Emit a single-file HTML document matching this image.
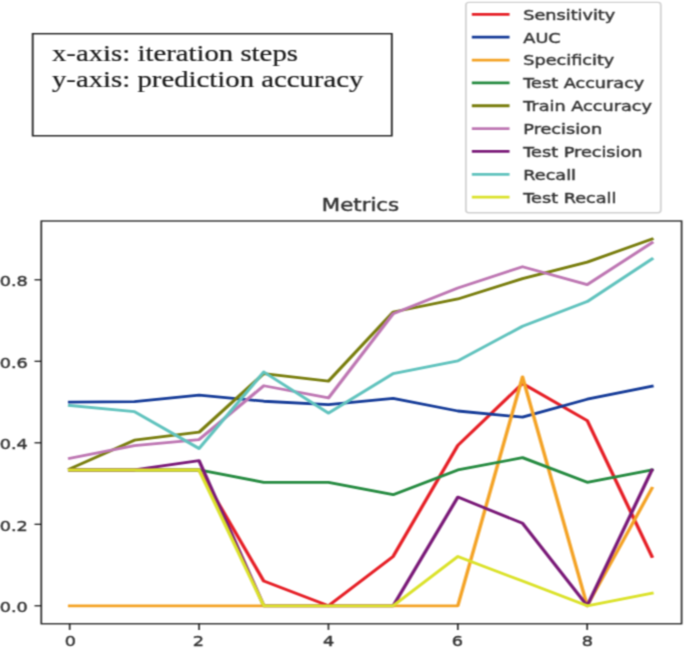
<!DOCTYPE html>
<html><head><meta charset="utf-8"><style>
html,body{margin:0;padding:0;background:#fff;}
body{width:685px;height:648px;overflow:hidden;}
svg{display:block;}
</style></head><body>
<svg width="685" height="648" viewBox="0 0 685 648">
<defs><filter id="bl" x="0" y="0" width="685" height="648" filterUnits="userSpaceOnUse" color-interpolation-filters="sRGB"><feConvolveMatrix order="3" kernelMatrix="0.0500 0.1000 0.0500 0.1500 0.3000 0.1500 0.0500 0.1000 0.0500" divisor="1" edgeMode="duplicate"/></filter></defs>
<rect width="685" height="648" fill="#fff"/>
<g filter="url(#bl)">
<rect width="685" height="648" fill="#fff"/>
<g transform="scale(1.245,1)">
<!-- annotation box -->
<rect x="26.27" y="33.7" width="288.43" height="102.1" fill="#fff" stroke="#222" stroke-width="1.45"/>
<g font-family="'Liberation Serif', serif" font-size="23.1" fill="#1a1a1a" stroke="#1a1a1a" stroke-width="0.2">
<text x="41.77" y="60.6">x-axis: iteration steps</text>
<text x="41.77" y="87.2">y-axis: prediction accuracy</text>
</g>
<!-- axes -->
<g fill="none" stroke-linecap="square" stroke-linejoin="round" stroke-width="2.8">
<polyline points="55.98,469.98 107.94,469.98 159.90,469.98 211.86,581.11 263.82,605.80 315.78,556.41 367.74,445.29 419.70,383.51 471.66,420.59 523.62,556.41" stroke="#e62027"/>
<polyline points="55.98,402.05 107.94,401.64 159.90,395.12 211.86,401.23 263.82,404.62 315.78,398.38 367.74,411.01 419.70,417.13 471.66,399.20 523.62,386.28" stroke="#153b98"/>
<polyline points="55.98,605.80 107.94,605.80 159.90,605.80 211.86,605.80 263.82,605.80 315.78,605.80 367.74,605.80 419.70,376.91 471.66,605.80 523.62,488.32" stroke="#f4a326"/>
<polyline points="55.98,469.98 107.94,469.98 159.90,469.98 211.86,482.33 263.82,482.33 315.78,494.67 367.74,469.98 419.70,457.63 471.66,482.33 523.62,469.98" stroke="#268b41"/>
<polyline points="55.98,468.88 107.94,440.19 159.90,432.20 211.86,373.52 263.82,381.10 315.78,311.99 367.74,298.95 419.70,278.58 471.66,262.11 523.62,239.05" stroke="#797e0e"/>
<polyline points="55.98,458.41 107.94,445.65 159.90,439.54 211.86,385.75 263.82,397.97 315.78,313.79 367.74,287.95 419.70,266.76 471.66,284.69 523.62,242.72" stroke="#be77b3"/>
<polyline points="55.98,469.98 107.94,469.98 159.90,460.73 211.86,605.80 263.82,605.80 315.78,605.80 367.74,497.12 419.70,523.28 471.66,605.80 523.62,469.98" stroke="#7a1a78"/>
<polyline points="55.98,405.47 107.94,411.59 159.90,448.50 211.86,372.02 263.82,413.05 315.78,373.52 367.74,360.89 419.70,326.25 471.66,301.56 523.62,259.02" stroke="#61c3be"/>
<polyline points="55.98,469.98 107.94,469.98 159.90,469.98 211.86,605.80 263.82,605.80 315.78,605.80 367.74,556.41 419.70,581.11 471.66,605.80 523.62,593.29" stroke="#dbe22b"/>
</g>
<rect x="33.17" y="221.0" width="514.30" height="402.80" fill="none" stroke="#1e1e1e" stroke-width="1.3"/>
<g stroke="#1e1e1e" stroke-width="1.3">
<line x1="27.71" y1="605.80" x2="33.17" y2="605.80"/>
<line x1="27.71" y1="524.30" x2="33.17" y2="524.30"/>
<line x1="27.71" y1="442.80" x2="33.17" y2="442.80"/>
<line x1="27.71" y1="361.30" x2="33.17" y2="361.30"/>
<line x1="27.71" y1="279.80" x2="33.17" y2="279.80"/>
<line x1="55.98" y1="623.8" x2="55.98" y2="629.9"/>
<line x1="159.90" y1="623.8" x2="159.90" y2="629.9"/>
<line x1="263.82" y1="623.8" x2="263.82" y2="629.9"/>
<line x1="367.74" y1="623.8" x2="367.74" y2="629.9"/>
<line x1="471.66" y1="623.8" x2="471.66" y2="629.9"/>
</g>
<g font-family="'DejaVu Sans', sans-serif" font-size="14.2" fill="#333" stroke="#333" stroke-width="0.42">
<text x="22.33" y="612.50" text-anchor="end">0.0</text>
<text x="22.33" y="531.00" text-anchor="end">0.2</text>
<text x="22.33" y="449.50" text-anchor="end">0.4</text>
<text x="22.33" y="368.00" text-anchor="end">0.6</text>
<text x="22.33" y="286.50" text-anchor="end">0.8</text>
<text x="56.63" y="646.4" text-anchor="middle">0</text>
<text x="159.28" y="646.4" text-anchor="middle">2</text>
<text x="263.94" y="646.4" text-anchor="middle">4</text>
<text x="367.31" y="646.4" text-anchor="middle">6</text>
<text x="471.81" y="646.4" text-anchor="middle">8</text>
</g>
<text x="289.56" y="211.2" text-anchor="middle" font-family="'DejaVu Sans', sans-serif" font-size="17.1" fill="#333" stroke="#333" stroke-width="0.42">Metrics</text>
<!-- legend -->
<rect x="374.22" y="2.4" width="156.55" height="210.3" rx="2.2" ry="2.78" fill="#fff" fill-opacity="0.8" stroke="#d0d0d0" stroke-width="1.39"/>
<g fill="none" stroke-linecap="square" stroke-width="2.8">
<line x1="380.40" y1="14.35" x2="407.87" y2="14.35" stroke="#e62027"/>
<line x1="380.40" y1="37.20" x2="407.87" y2="37.20" stroke="#153b98"/>
<line x1="380.40" y1="60.05" x2="407.87" y2="60.05" stroke="#f4a326"/>
<line x1="380.40" y1="82.90" x2="407.87" y2="82.90" stroke="#268b41"/>
<line x1="380.40" y1="105.75" x2="407.87" y2="105.75" stroke="#797e0e"/>
<line x1="380.40" y1="128.60" x2="407.87" y2="128.60" stroke="#be77b3"/>
<line x1="380.40" y1="151.45" x2="407.87" y2="151.45" stroke="#7a1a78"/>
<line x1="380.40" y1="174.30" x2="407.87" y2="174.30" stroke="#61c3be"/>
<line x1="380.40" y1="197.15" x2="407.87" y2="197.15" stroke="#dbe22b"/>
</g>
<g font-family="'DejaVu Sans', sans-serif" font-size="14.2" fill="#333" stroke="#333" stroke-width="0.42">
<text x="420.32" y="19.75">Sensitivity</text>
<text x="420.32" y="42.60">AUC</text>
<text x="420.32" y="65.45">Specificity</text>
<text x="420.32" y="88.30">Test Accuracy</text>
<text x="420.32" y="111.15">Train Accuracy</text>
<text x="420.32" y="134.00">Precision</text>
<text x="420.32" y="156.85">Test Precision</text>
<text x="420.32" y="179.70">Recall</text>
<text x="420.32" y="202.55">Test Recall</text>
</g>
</g>
</g>
</svg>
</body></html>
